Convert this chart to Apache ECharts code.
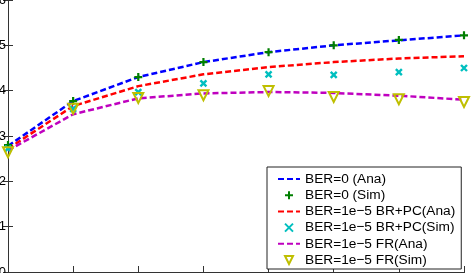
<!DOCTYPE html>
<html><head><meta charset="utf-8">
<script src="https://cdn.jsdelivr.net/npm/echarts@6/dist/echarts.min.js"></script>
<style>html,body{margin:0;padding:0;background:#fff}#c{width:474px;height:273px}</style>
</head><body><div id="c"></div>
<script>
const xValues = [0, 1, 2, 3, 4, 5, 6, 7];
const yTicks = [0, 1, 2, 3, 4, 5, 6];
const ber0Ana = [2.78, 3.77, 4.30, 4.63, 4.85, 5.00, 5.11, 5.22];
const ber0Sim = [2.80, 3.77, 4.30, 4.63, 4.85, 5.00, 5.12, 5.22];
const brpcAna = [2.72, 3.66, 4.10, 4.36, 4.52, 4.63, 4.71, 4.76];
const brpcSim = [2.72, 3.60, 3.97, 4.16, 4.36, 4.35, 4.41, 4.50];
const frAna  = [2.68, 3.48, 3.83, 3.94, 3.97, 3.95, 3.89, 3.80];
const frSim  = [2.64, 3.60, 3.84, 3.90, 3.99, 3.86, 3.81, 3.75];
const names = ['BER=0 (Ana)', 'BER=0 (Sim)', 'BER=1e\u22125 BR+PC(Ana)', 'BER=1e\u22125 BR+PC(Sim)', 'BER=1e\u22125 FR(Ana)', 'BER=1e\u22125 FR(Sim)'];

const pair = arr => xValues.map((x, i) => [x, arr[i]]);
const font = '"Liberation Sans", Arial, sans-serif';
const axisCol = '#333';

function anaSeries(name, data, color) {
  return { name, type: 'line', data: pair(data), symbol: 'none', smooth: false,
    lineStyle: { color, width: 2.5, type: [6, 3] }, itemStyle: { color: 'rgba(0,0,0,0)' }, z: 2 };
}
function simSeries(name, data, symbol, size, color, bw) {
  return { name, type: 'line', data: pair(data), symbol, symbolSize: size,
    lineStyle: { width: 0, opacity: 0 }, showSymbol: true,
    itemStyle: { color: 'none', borderColor: color, borderWidth: bw, opacity: 1 }, z: 3 };
}

const chart = echarts.init(document.getElementById('c'), null, { renderer: 'canvas' });
chart.setOption({
  animation: false,
  backgroundColor: '#fff',
  grid: { left: 8, right: 10, top: 0, bottom: 1, containLabel: false, outerBoundsMode: 'none' },
  xAxis: [
    { type: 'value', min: 0, max: 7, interval: 1, position: 'bottom',
      axisLine: { lineStyle: { color: axisCol, width: 1 } },
      axisTick: { inside: true, length: 6, lineStyle: { color: axisCol } },
      axisLabel: { show: true, color: '#000', fontFamily: font, fontSize: 13 },
      splitLine: { show: false } },
    { type: 'value', min: 0, max: 7, interval: 1, position: 'top',
      axisLine: { show: true, lineStyle: { color: axisCol, width: 1 } },
      axisTick: { inside: true, length: 6, lineStyle: { color: axisCol } },
      axisLabel: { show: false }, splitLine: { show: false } }
  ],
  yAxis: [
    { type: 'value', min: 0, max: 6, interval: 1, position: 'left',
      axisLine: { show: true, lineStyle: { color: axisCol, width: 1 } },
      axisTick: { show: true, inside: true, length: 5, lineStyle: { color: axisCol } },
      axisLabel: { color: '#000', fontFamily: font, fontSize: 13, margin: 2,
        formatter: v => yTicks.includes(v) ? String(v) : '' },
      splitLine: { show: false } },
    { type: 'value', min: 0, max: 6, interval: 1, position: 'right',
      axisLine: { show: true, lineStyle: { color: axisCol, width: 1 } },
      axisTick: { show: true, inside: true, length: 5, lineStyle: { color: axisCol } },
      axisLabel: { show: false }, splitLine: { show: false } }
  ],
  legend: {
    orient: 'vertical', left: 267, top: 167, height: 110,
    padding: [5, 6, 2, 10],
    backgroundColor: '#fff', borderColor: '#222', borderWidth: 1,
    itemWidth: 22, itemHeight: 10, itemGap: 2.2,
    textStyle: { fontFamily: font, fontSize: 13.7, color: '#000', lineHeight: 14 },
    data: names
  },
  series: [
    anaSeries(names[0], ber0Ana, '#0000ff'),
    simSeries(names[1], ber0Sim, 'path://M5,0 L5,10 M0,5 L10,5', 8, '#007f00', 2.2),
    anaSeries(names[2], brpcAna, '#ff0000'),
    simSeries(names[3], brpcSim, 'path://M0,0 L10,10 M10,0 L0,10', 6, '#00bfbf', 2.4),
    anaSeries(names[4], frAna, '#bf00bf'),
    simSeries(names[5], frSim, 'path://M0,0 L10,0 L5,8 Z', 10, '#bfbf00', 2)
  ]
});
</script></body></html>
